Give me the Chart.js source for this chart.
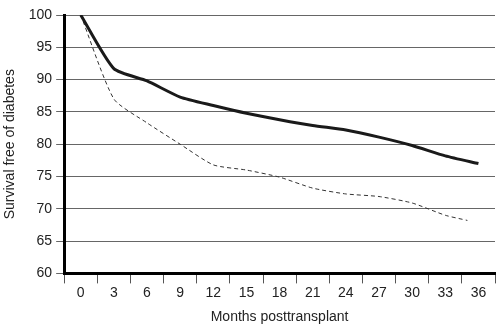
<!DOCTYPE html>
<html>
<head>
<meta charset="utf-8">
<script src="https://cdn.jsdelivr.net/npm/chart.js@4/dist/chart.umd.min.js"></script>
<style>
  html, body { margin: 0; padding: 0; background: #fff; }
  #wrap { width: 500px; height: 335px; position: relative; }
</style>
</head>
<body>
<div id="wrap"><canvas id="c"></canvas></div>
<script>
const monthLabels = ['0','3','6','9','12','15','18','21','24','27','30','33','36'];
const solidMonths = [0, 3, 6, 9, 12, 15, 18, 21, 24, 27, 30, 33, 36];
const solidValues = [100, 91.7, 89.8, 87.3, 86.0, 84.8, 83.8, 82.9, 82.2, 81.1, 79.8, 78.2, 77.0];
const dashedMonths = [0, 3, 6, 9, 12, 15, 18, 21, 24, 27, 30, 33, 35];
const dashedValues = [100, 87.0, 83.3, 80.0, 76.8, 76.0, 74.9, 73.2, 72.3, 71.9, 70.9, 69.0, 68.2];
const yTicks = [60, 65, 70, 75, 80, 85, 90, 95, 100];

const toPts = (xs, ys) => xs.map((x, i) => ({ x: x, y: ys[i] }));
const font = { family: '"Liberation Sans", Arial, sans-serif', size: 14 };

new Chart(document.getElementById('c'), {
  type: 'line',
  data: {
    labels: monthLabels,
    datasets: [
      {
        data: toPts(solidMonths, solidValues),
        xAxisID: 'xv',
        borderColor: '#1a1a1a',
        borderWidth: 3,
        pointRadius: 0,
        tension: 0.2,
        fill: false
      },
      {
        data: toPts(dashedMonths, dashedValues),
        xAxisID: 'xv',
        borderColor: '#333',
        borderWidth: 1,
        borderDash: [4, 3],
        pointRadius: 0,
        tension: 0.2,
        fill: false
      }
    ]
  },
  options: {
    responsive: true,
    maintainAspectRatio: false,
    animation: false,
    layout: { padding: { top: 15, right: 5, left: 2, bottom: 9 } },
    plugins: { legend: { display: false }, tooltip: { enabled: false } },
    scales: {
      x: {
        type: 'category',
        offset: true,
        border: { display: true, color: '#000', width: 3 },
        grid: { drawOnChartArea: false, drawTicks: true, tickLength: 10, color: '#555', lineWidth: 1, offset: true },
        ticks: { color: '#222', font: font, padding: 1, maxRotation: 0, autoSkip: false },
        title: { display: true, text: 'Months posttransplant', color: '#222', font: font, padding: { top: 7, bottom: 0 } }
      },
      xv: {
        type: 'linear',
        display: false,
        min: -1.5,
        max: 37.5
      },
      y: {
        min: 60,
        max: 100,
        afterBuildTicks: (s) => { s.ticks = yTicks.map(v => ({ value: v })); },
        border: { display: true, color: '#000', width: 3 },
        grid: { color: '#666', lineWidth: 1, drawTicks: true, tickLength: 8 },
        ticks: { color: '#222', font: font, padding: 4 },
        title: { display: true, text: 'Survival free of diabetes', color: '#222', font: font, padding: { top: 0, bottom: 6 } }
      }
    }
  }
});
</script>
</body>
</html>
